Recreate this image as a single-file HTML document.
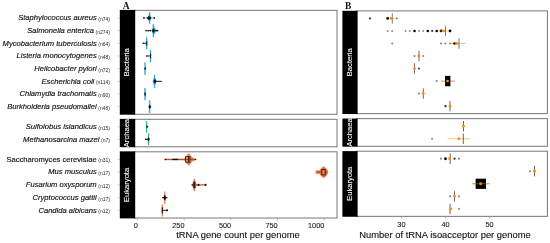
<!DOCTYPE html>
<html lang="en"><head><meta charset="utf-8"><title>tRNA gene count per genome</title>
<style>html,body{margin:0;padding:0;background:#fff}svg{display:block}</style></head>
<body>
<svg width="550" height="243" viewBox="0 0 550 243">
<rect width="550" height="243" fill="#fff"/>
<text x="122.8" y="8.9" font-family="Liberation Serif, Times New Roman, serif" font-weight="bold" font-size="9.5" fill="#111">A</text>
<text x="344.9" y="8.9" font-family="Liberation Serif, Times New Roman, serif" font-weight="bold" font-size="9.5" fill="#111">B</text>
<text x="110" y="20.26" text-anchor="end" font-family="Liberation Sans, Arial, sans-serif" font-size="7.6" fill="#111" stroke="#111" stroke-width="0.15"><tspan font-style="italic">Staphylococcus aureus</tspan><tspan font-size="5" fill="#2a2a2a" stroke="none" dx="1.6" dy="0.6">(n74)</tspan></text>
<line x1="117" x2="120" y1="17.96" y2="17.96" stroke="#c8c8c8" stroke-width="0.6"/>
<text x="110" y="32.93" text-anchor="end" font-family="Liberation Sans, Arial, sans-serif" font-size="7.6" fill="#111" stroke="#111" stroke-width="0.15"><tspan font-style="italic">Salmonella enterica</tspan><tspan font-size="5" fill="#2a2a2a" stroke="none" dx="1.6" dy="0.6">(n274)</tspan></text>
<line x1="117" x2="120" y1="30.63" y2="30.63" stroke="#c8c8c8" stroke-width="0.6"/>
<text x="110" y="45.61" text-anchor="end" font-family="Liberation Sans, Arial, sans-serif" font-size="7.6" fill="#111" stroke="#111" stroke-width="0.15"><tspan font-style="italic">Mycobacterium tuberculosis</tspan><tspan font-size="5" fill="#2a2a2a" stroke="none" dx="1.6" dy="0.6">(n64)</tspan></text>
<line x1="117" x2="120" y1="43.31" y2="43.31" stroke="#c8c8c8" stroke-width="0.6"/>
<text x="110" y="58.29" text-anchor="end" font-family="Liberation Sans, Arial, sans-serif" font-size="7.6" fill="#111" stroke="#111" stroke-width="0.15"><tspan font-style="italic">Listeria monocytogenes</tspan><tspan font-size="5" fill="#2a2a2a" stroke="none" dx="1.6" dy="0.6">(n48)</tspan></text>
<line x1="117" x2="120" y1="55.99" y2="55.99" stroke="#c8c8c8" stroke-width="0.6"/>
<text x="110" y="70.96" text-anchor="end" font-family="Liberation Sans, Arial, sans-serif" font-size="7.6" fill="#111" stroke="#111" stroke-width="0.15"><tspan font-style="italic">Helicobacter pylori</tspan><tspan font-size="5" fill="#2a2a2a" stroke="none" dx="1.6" dy="0.6">(n72)</tspan></text>
<line x1="117" x2="120" y1="68.66" y2="68.66" stroke="#c8c8c8" stroke-width="0.6"/>
<text x="110" y="83.64" text-anchor="end" font-family="Liberation Sans, Arial, sans-serif" font-size="7.6" fill="#111" stroke="#111" stroke-width="0.15"><tspan font-style="italic">Escherichia coli</tspan><tspan font-size="5" fill="#2a2a2a" stroke="none" dx="1.6" dy="0.6">(n114)</tspan></text>
<line x1="117" x2="120" y1="81.34" y2="81.34" stroke="#c8c8c8" stroke-width="0.6"/>
<text x="110" y="96.32" text-anchor="end" font-family="Liberation Sans, Arial, sans-serif" font-size="7.6" fill="#111" stroke="#111" stroke-width="0.15"><tspan font-style="italic">Chlamydia trachomatis</tspan><tspan font-size="5" fill="#2a2a2a" stroke="none" dx="1.6" dy="0.6">(n90)</tspan></text>
<line x1="117" x2="120" y1="94.02" y2="94.02" stroke="#c8c8c8" stroke-width="0.6"/>
<text x="110" y="108.99" text-anchor="end" font-family="Liberation Sans, Arial, sans-serif" font-size="7.6" fill="#111" stroke="#111" stroke-width="0.15"><tspan font-style="italic">Burkholderia pseudomallei</tspan><tspan font-size="5" fill="#2a2a2a" stroke="none" dx="1.6" dy="0.6">(n48)</tspan></text>
<line x1="117" x2="120" y1="106.69" y2="106.69" stroke="#c8c8c8" stroke-width="0.6"/>
<text x="110" y="129.10" text-anchor="end" font-family="Liberation Sans, Arial, sans-serif" font-size="7.6" fill="#111" stroke="#111" stroke-width="0.15"><tspan font-style="italic">Sulfolobus islandicus</tspan><tspan font-size="5" fill="#2a2a2a" stroke="none" dx="1.6" dy="0.6">(n15)</tspan></text>
<line x1="117" x2="120" y1="126.80" y2="126.80" stroke="#c8c8c8" stroke-width="0.6"/>
<text x="110" y="141.60" text-anchor="end" font-family="Liberation Sans, Arial, sans-serif" font-size="7.6" fill="#111" stroke="#111" stroke-width="0.15"><tspan font-style="italic">Methanosarcina mazei</tspan><tspan font-size="5" fill="#2a2a2a" stroke="none" dx="1.6" dy="0.6">(n7)</tspan></text>
<line x1="117" x2="120" y1="139.30" y2="139.30" stroke="#c8c8c8" stroke-width="0.6"/>
<text x="110" y="161.74" text-anchor="end" font-family="Liberation Sans, Arial, sans-serif" font-size="7.6" fill="#111" stroke="#111" stroke-width="0.15"><tspan>Saccharomyces cerevisiae</tspan><tspan font-size="5" fill="#2a2a2a" stroke="none" dx="1.6" dy="0.6">(n31)</tspan></text>
<line x1="117" x2="120" y1="159.44" y2="159.44" stroke="#c8c8c8" stroke-width="0.6"/>
<text x="110" y="174.47" text-anchor="end" font-family="Liberation Sans, Arial, sans-serif" font-size="7.6" fill="#111" stroke="#111" stroke-width="0.15"><tspan font-style="italic">Mus musculus</tspan><tspan font-size="5" fill="#2a2a2a" stroke="none" dx="1.6" dy="0.6">(n17)</tspan></text>
<line x1="117" x2="120" y1="172.17" y2="172.17" stroke="#c8c8c8" stroke-width="0.6"/>
<text x="110" y="187.20" text-anchor="end" font-family="Liberation Sans, Arial, sans-serif" font-size="7.6" fill="#111" stroke="#111" stroke-width="0.15"><tspan font-style="italic">Fusarium oxysporum</tspan><tspan font-size="5" fill="#2a2a2a" stroke="none" dx="1.6" dy="0.6">(n12)</tspan></text>
<line x1="117" x2="120" y1="184.90" y2="184.90" stroke="#c8c8c8" stroke-width="0.6"/>
<text x="110" y="199.93" text-anchor="end" font-family="Liberation Sans, Arial, sans-serif" font-size="7.6" fill="#111" stroke="#111" stroke-width="0.15"><tspan font-style="italic">Cryptococcus gattii</tspan><tspan font-size="5" fill="#2a2a2a" stroke="none" dx="1.6" dy="0.6">(n17)</tspan></text>
<line x1="117" x2="120" y1="197.63" y2="197.63" stroke="#c8c8c8" stroke-width="0.6"/>
<text x="110" y="212.66" text-anchor="end" font-family="Liberation Sans, Arial, sans-serif" font-size="7.6" fill="#111" stroke="#111" stroke-width="0.15"><tspan font-style="italic">Candida albicans</tspan><tspan font-size="5" fill="#2a2a2a" stroke="none" dx="1.6" dy="0.6">(n12)</tspan></text>
<line x1="117" x2="120" y1="210.36" y2="210.36" stroke="#c8c8c8" stroke-width="0.6"/>
<rect x="134.20" y="10.35" width="202.80" height="103.95" fill="#fff" stroke="#767676" stroke-width="1"/>
<rect x="119.8" y="9.90" width="15.40" height="104.80" fill="#000"/>
<text transform="translate(129.00,62.32) rotate(-90)" text-anchor="middle" font-family="Liberation Sans, Arial, sans-serif" font-size="7.6" fill="#fff" stroke="#fff" stroke-width="0.08">Bacteria</text>
<rect x="134.20" y="119.3" width="202.80" height="27.50" fill="#fff" stroke="#767676" stroke-width="1"/>
<rect x="119.8" y="118.85" width="15.40" height="28.35" fill="#000"/>
<text transform="translate(129.00,133.05) rotate(-90)" text-anchor="middle" font-family="Liberation Sans, Arial, sans-serif" font-size="7.6" fill="#fff" stroke="#fff" stroke-width="0.08">Archaea</text>
<rect x="134.20" y="151.8" width="202.80" height="66.20" fill="#fff" stroke="#767676" stroke-width="1"/>
<rect x="119.8" y="151.35" width="15.40" height="67.05" fill="#000"/>
<text transform="translate(129.00,184.90) rotate(-90)" text-anchor="middle" font-family="Liberation Sans, Arial, sans-serif" font-size="7.6" fill="#fff" stroke="#fff" stroke-width="0.08">Eukaryota</text>
<rect x="356.60" y="10.9" width="190.80" height="102.75" fill="#fff" stroke="#767676" stroke-width="1"/>
<rect x="342.4" y="10.80" width="15.20" height="103.25" fill="#000"/>
<text transform="translate(351.50,62.28) rotate(-90)" text-anchor="middle" font-family="Liberation Sans, Arial, sans-serif" font-size="7.6" fill="#fff" stroke="#fff" stroke-width="0.08">Bacteria</text>
<rect x="356.60" y="118.65" width="190.80" height="27.65" fill="#fff" stroke="#767676" stroke-width="1"/>
<rect x="342.4" y="118.55" width="15.20" height="28.15" fill="#000"/>
<text transform="translate(351.50,132.48) rotate(-90)" text-anchor="middle" font-family="Liberation Sans, Arial, sans-serif" font-size="7.6" fill="#fff" stroke="#fff" stroke-width="0.08">Archaea</text>
<rect x="356.60" y="151.2" width="190.80" height="65.15" fill="#fff" stroke="#767676" stroke-width="1"/>
<rect x="342.4" y="151.10" width="15.20" height="65.65" fill="#000"/>
<text transform="translate(351.50,183.77) rotate(-90)" text-anchor="middle" font-family="Liberation Sans, Arial, sans-serif" font-size="7.6" fill="#fff" stroke="#fff" stroke-width="0.08">Eukaryota</text>
<line x1="137.60" x2="137.60" y1="218.4" y2="220.4" stroke="#8a8a8a" stroke-width="0.6"/>
<text x="137.90" y="228.2" text-anchor="end" font-family="Liberation Sans, Arial, sans-serif" font-size="7.3" fill="#1a1a1a" stroke="#1a1a1a" stroke-width="0.1">0</text>
<line x1="184.20" x2="184.20" y1="218.4" y2="220.4" stroke="#8a8a8a" stroke-width="0.6"/>
<text x="184.50" y="228.2" text-anchor="end" font-family="Liberation Sans, Arial, sans-serif" font-size="7.3" fill="#1a1a1a" stroke="#1a1a1a" stroke-width="0.1">250</text>
<line x1="230.80" x2="230.80" y1="218.4" y2="220.4" stroke="#8a8a8a" stroke-width="0.6"/>
<text x="231.10" y="228.2" text-anchor="end" font-family="Liberation Sans, Arial, sans-serif" font-size="7.3" fill="#1a1a1a" stroke="#1a1a1a" stroke-width="0.1">500</text>
<line x1="277.40" x2="277.40" y1="218.4" y2="220.4" stroke="#8a8a8a" stroke-width="0.6"/>
<text x="277.70" y="228.2" text-anchor="end" font-family="Liberation Sans, Arial, sans-serif" font-size="7.3" fill="#1a1a1a" stroke="#1a1a1a" stroke-width="0.1">750</text>
<line x1="324.00" x2="324.00" y1="218.4" y2="220.4" stroke="#8a8a8a" stroke-width="0.6"/>
<text x="324.30" y="228.2" text-anchor="end" font-family="Liberation Sans, Arial, sans-serif" font-size="7.3" fill="#1a1a1a" stroke="#1a1a1a" stroke-width="0.1">1000</text>
<text x="238" y="238.4" text-anchor="middle" font-family="Liberation Sans, Arial, sans-serif" font-size="9.4" fill="#111" stroke="#111" stroke-width="0.12">tRNA gene count per genome</text>
<line x1="401.40" x2="401.40" y1="216.8" y2="218.6" stroke="#8a8a8a" stroke-width="0.6"/>
<text x="401.40" y="227" text-anchor="middle" font-family="Liberation Sans, Arial, sans-serif" font-size="7.3" fill="#1a1a1a" stroke="#1a1a1a" stroke-width="0.1">30</text>
<line x1="445.50" x2="445.50" y1="216.8" y2="218.6" stroke="#8a8a8a" stroke-width="0.6"/>
<text x="445.50" y="227" text-anchor="middle" font-family="Liberation Sans, Arial, sans-serif" font-size="7.3" fill="#1a1a1a" stroke="#1a1a1a" stroke-width="0.1">40</text>
<line x1="489.60" x2="489.60" y1="216.8" y2="218.6" stroke="#8a8a8a" stroke-width="0.6"/>
<text x="489.60" y="227" text-anchor="middle" font-family="Liberation Sans, Arial, sans-serif" font-size="7.3" fill="#1a1a1a" stroke="#1a1a1a" stroke-width="0.1">50</text>
<text x="445" y="238.4" text-anchor="middle" font-family="Liberation Sans, Arial, sans-serif" font-size="9.4" fill="#111" stroke="#111" stroke-width="0.12">Number of tRNA isoacceptor per genome</text>
<path d="M150.05,12.16 L150.05,13.12 L150.05,14.09 L150.21,15.06 L150.60,16.02 L150.96,16.99 L151.10,17.96 L150.96,18.92 L150.60,19.89 L150.21,20.86 L150.05,21.82 L150.05,22.79 L150.05,23.76 L149.15,23.76 L149.15,22.79 L149.15,21.82 L148.91,20.86 L148.46,19.89 L148.06,18.92 L147.90,17.96 L148.06,16.99 L148.46,16.02 L148.91,15.06 L149.15,14.09 L149.15,13.12 L149.15,12.16Z" fill="#1E9FD6" stroke="#1E9FD6" stroke-width="0.3" />
<line x1="143.80" x2="154.30" y1="17.96" y2="17.96" stroke="#111" stroke-width="0.35"/>
<circle cx="143.90" cy="17.96" r="0.85" fill="#111" fill-opacity="1"/>
<circle cx="154.30" cy="17.96" r="0.85" fill="#111" fill-opacity="1"/>
<path d="M146.50,17.96 L149.00,15.96 L151.50,17.96 L149.00,19.96Z" fill="#111"/>
<path d="M153.75,24.33 L153.75,25.38 L153.82,26.43 L154.35,27.48 L155.04,28.53 L155.65,29.58 L155.90,30.63 L155.65,31.68 L155.04,32.73 L154.35,33.78 L153.82,34.83 L153.75,35.88 L153.75,36.93 L152.85,36.93 L152.85,35.88 L152.85,34.83 L152.85,33.78 L152.63,32.73 L152.40,31.68 L152.30,30.63 L152.40,29.58 L152.63,28.53 L152.85,27.48 L152.85,26.43 L152.85,25.38 L152.85,24.33Z" fill="#1E9FD6" stroke="#1E9FD6" stroke-width="0.3" />
<line x1="145.80" x2="157.60" y1="30.63" y2="30.63" stroke="#111" stroke-width="0.45"/>
<circle cx="146.00" cy="30.63" r="0.8" fill="#111" fill-opacity="1"/>
<circle cx="148.20" cy="30.63" r="0.8" fill="#111" fill-opacity="1"/>
<circle cx="150.20" cy="30.63" r="0.8" fill="#111" fill-opacity="1"/>
<circle cx="156.30" cy="30.63" r="0.8" fill="#111" fill-opacity="1"/>
<circle cx="157.60" cy="30.63" r="0.8" fill="#111" fill-opacity="1"/>
<path d="M151.80,30.63 L153.40,28.23 L155.00,30.63 L153.40,33.03Z" fill="#111"/>
<path d="M147.15,37.31 L147.15,38.31 L147.15,39.31 L147.15,40.31 L147.15,41.31 L147.15,42.31 L147.15,43.31 L147.15,44.31 L147.15,45.31 L147.15,46.31 L147.15,47.31 L147.15,48.31 L147.15,49.31 L146.25,49.31 L146.25,48.31 L146.25,47.31 L146.25,46.31 L146.25,45.31 L146.25,44.31 L146.25,43.31 L146.25,42.31 L146.25,41.31 L146.25,40.31 L146.25,39.31 L146.25,38.31 L146.25,37.31Z" fill="#1E9FD6" stroke="#1E9FD6" stroke-width="0.3" />
<line x1="143.00" x2="146.60" y1="43.31" y2="43.31" stroke="#111" stroke-width="0.9"/>
<circle cx="143.20" cy="43.31" r="0.7" fill="#111" fill-opacity="1"/>
<line x1="146.80" x2="146.80" y1="41.11" y2="45.51" stroke="#111" stroke-width="1.0"/>
<path d="M150.95,49.99 L150.95,50.99 L150.95,51.99 L150.95,52.99 L150.95,53.99 L150.95,54.99 L150.95,55.99 L150.95,56.99 L150.95,57.99 L150.95,58.99 L150.95,59.99 L150.95,60.99 L150.95,61.99 L150.05,61.99 L150.05,60.99 L150.05,59.99 L150.05,58.99 L150.05,57.99 L150.05,56.99 L150.05,55.99 L150.05,54.99 L150.05,53.99 L150.05,52.99 L150.05,51.99 L150.05,50.99 L150.05,49.99Z" fill="#1E9FD6" stroke="#1E9FD6" stroke-width="0.3" />
<line x1="146.60" x2="150.40" y1="55.99" y2="55.99" stroke="#111" stroke-width="0.9"/>
<circle cx="146.80" cy="55.99" r="0.7" fill="#111" fill-opacity="1"/>
<line x1="150.60" x2="150.60" y1="53.69" y2="58.29" stroke="#111" stroke-width="1.0"/>
<path d="M145.45,62.66 L145.45,63.66 L145.45,64.66 L145.45,65.66 L145.45,66.66 L145.45,67.66 L145.45,68.66 L145.45,69.66 L145.45,70.66 L145.45,71.66 L145.45,72.66 L145.45,73.66 L145.45,74.66 L144.55,74.66 L144.55,73.66 L144.55,72.66 L144.55,71.66 L144.55,70.66 L144.55,69.66 L144.55,68.66 L144.55,67.66 L144.55,66.66 L144.55,65.66 L144.55,64.66 L144.55,63.66 L144.55,62.66Z" fill="#1E9FD6" stroke="#1E9FD6" stroke-width="0.3" />
<path d="M144.30,68.66 L145.20,66.76 L146.10,68.66 L145.20,70.56Z" fill="#111"/>
<path d="M155.05,75.04 L155.05,76.09 L155.05,77.14 L155.29,78.19 L155.74,79.24 L156.14,80.29 L156.30,81.34 L156.14,82.39 L155.74,83.44 L155.29,84.49 L155.05,85.54 L155.05,86.59 L155.05,87.64 L154.15,87.64 L154.15,86.59 L154.15,85.54 L153.91,84.49 L153.46,83.44 L153.06,82.39 L152.90,81.34 L153.06,80.29 L153.46,79.24 L153.91,78.19 L154.15,77.14 L154.15,76.09 L154.15,75.04Z" fill="#1E9FD6" stroke="#1E9FD6" stroke-width="0.3" />
<line x1="154.50" x2="161.80" y1="81.34" y2="81.34" stroke="#111" stroke-width="1.0"/>
<path d="M153.50,81.34 L155.00,79.04 L156.50,81.34 L155.00,83.64Z" fill="#111"/>
<path d="M145.45,88.02 L145.45,89.02 L145.45,90.02 L145.45,91.02 L145.45,92.02 L145.45,93.02 L145.45,94.02 L145.45,95.02 L145.45,96.02 L145.45,97.02 L145.45,98.02 L145.45,99.02 L145.45,100.02 L144.55,100.02 L144.55,99.02 L144.55,98.02 L144.55,97.02 L144.55,96.02 L144.55,95.02 L144.55,94.02 L144.55,93.02 L144.55,92.02 L144.55,91.02 L144.55,90.02 L144.55,89.02 L144.55,88.02Z" fill="#1E9FD6" stroke="#1E9FD6" stroke-width="0.3" />
<path d="M144.20,94.02 L145.10,91.62 L146.00,94.02 L145.10,96.42Z" fill="#111"/>
<path d="M150.15,100.49 L150.15,101.53 L150.15,102.56 L150.15,103.59 L150.15,104.63 L150.15,105.66 L150.15,106.69 L150.15,107.73 L150.15,108.76 L150.15,109.79 L150.15,110.83 L150.15,111.86 L150.15,112.89 L149.25,112.89 L149.25,111.86 L149.25,110.83 L149.25,109.79 L149.25,108.76 L149.25,107.73 L149.25,106.69 L149.25,105.66 L149.25,104.63 L149.25,103.59 L149.25,102.56 L149.25,101.53 L149.25,100.49Z" fill="#1E9FD6" stroke="#1E9FD6" stroke-width="0.3" />
<path d="M148.30,106.69 L149.80,104.39 L151.30,106.69 L149.80,108.99Z" fill="#111"/>
<path d="M147.05,121.20 L147.05,122.13 L147.05,123.07 L147.05,124.00 L147.05,124.93 L147.05,125.87 L147.05,126.80 L147.05,127.73 L147.05,128.67 L147.05,129.60 L147.05,130.53 L147.05,131.47 L147.05,132.40 L146.15,132.40 L146.15,131.47 L146.15,130.53 L146.15,129.60 L146.15,128.67 L146.15,127.73 L146.15,126.80 L146.15,125.87 L146.15,124.93 L146.15,124.00 L146.15,123.07 L146.15,122.13 L146.15,121.20Z" fill="#1DB690" stroke="#1DB690" stroke-width="0.3" />
<path d="M146.5,125.00 L148.3,126.80 L146.5,128.60Z" fill="#111"/>
<path d="M149.05,133.60 L149.05,134.55 L149.05,135.50 L149.05,136.45 L149.20,137.40 L149.41,138.35 L149.50,139.30 L149.41,140.25 L149.20,141.20 L149.05,142.15 L149.05,143.10 L149.05,144.05 L149.05,145.00 L148.15,145.00 L148.15,144.05 L148.15,143.10 L148.15,142.15 L148.00,141.20 L147.79,140.25 L147.70,139.30 L147.79,138.35 L148.00,137.40 L148.15,136.45 L148.15,135.50 L148.15,134.55 L148.15,133.60Z" fill="#1DB690" stroke="#1DB690" stroke-width="0.3" />
<line x1="145.60" x2="149.40" y1="139.30" y2="139.30" stroke="#111" stroke-width="0.9"/>
<circle cx="145.60" cy="139.30" r="0.8" fill="#111" fill-opacity="1"/>
<path d="M147.20,139.30 L148.40,137.30 L149.60,139.30 L148.40,141.30Z" fill="#111"/>
<path d="M164.5,159.14 L184,158.94 L185.5,157.84 L187,155.44 L188.8,153.64 L190.2,155.44 L192,157.64 L195.5,159.14 L195.5,159.74 L192,161.24 L190.2,163.44 L188.8,165.24 L187,163.44 L185.5,161.04 L184,159.94 L164.5,159.74Z" fill="#EC7F4D" stroke="#E9723A" stroke-width="0.7"/>
<line x1="165.50" x2="195.50" y1="159.44" y2="159.44" stroke="#5a2a18" stroke-width="0.5"/>
<circle cx="165.50" cy="159.44" r="0.8" fill="#111" fill-opacity="1"/>
<circle cx="195.60" cy="159.44" r="0.8" fill="#111" fill-opacity="1"/>
<line x1="172.30" x2="178.20" y1="159.44" y2="159.44" stroke="#111" stroke-width="1.3"/>
<rect x="185.6" y="156.64" width="4.4" height="5.6" fill="none" stroke="#222" stroke-width="0.8"/>
<line x1="188.60" x2="188.60" y1="156.64" y2="162.24" stroke="#111" stroke-width="0.8"/>
<path d="M315.9,170.87 L319.4,170.77 L320.4,169.57 L321.6,167.97 L322.6,167.17 L323.6,166.77 L324.6,167.17 L325.8,168.17 L326.9,169.57 L327.8,170.97 L327.8,173.37 L326.9,174.77 L325.8,176.17 L324.6,177.17 L323.6,177.57 L322.6,177.17 L321.6,176.37 L320.4,174.77 L319.4,173.57 L315.9,173.47Z" fill="#E9723A" stroke="#E9723A" stroke-width="0.5" stroke-linejoin="round"/>
<line x1="317.00" x2="327.60" y1="172.17" y2="172.17" stroke="#5a2a18" stroke-width="0.5"/>
<rect x="321.8" y="169.47" width="3.4" height="5.4" fill="#E8805C" stroke="#222" stroke-width="0.9"/>
<line x1="191.00" x2="206.00" y1="184.90" y2="184.90" stroke="#E9723A" stroke-width="1.2"/>
<path d="M194.85,178.90 L194.91,179.90 L195.24,180.90 L195.63,181.90 L196.01,182.90 L196.29,183.90 L196.40,184.90 L196.29,185.90 L196.01,186.90 L195.63,187.90 L195.24,188.90 L194.91,189.90 L194.85,190.90 L193.95,190.90 L193.89,189.90 L193.56,188.90 L193.17,187.90 L192.79,186.90 L192.51,185.90 L192.40,184.90 L192.51,183.90 L192.79,182.90 L193.17,181.90 L193.56,180.90 L193.89,179.90 L193.95,178.90Z" fill="#E9723A" stroke="#E9723A" stroke-width="0.3" />
<rect x="193.3" y="181.70" width="2.0" height="6.4" fill="#223"/>
<line x1="195.00" x2="205.50" y1="184.90" y2="184.90" stroke="#7a3a20" stroke-width="0.4"/>
<circle cx="198.50" cy="184.90" r="1.05" fill="#111" fill-opacity="1"/>
<circle cx="205.60" cy="184.90" r="1.05" fill="#111" fill-opacity="1"/>
<circle cx="192.60" cy="184.90" r="0.7" fill="#111" fill-opacity="1"/>
<path d="M165.25,191.73 L165.25,192.71 L165.25,193.70 L165.31,194.68 L165.50,195.66 L165.65,196.65 L165.70,197.63 L165.65,198.61 L165.50,199.60 L165.31,200.58 L165.25,201.56 L165.25,202.55 L165.25,203.53 L164.35,203.53 L164.35,202.55 L164.35,201.56 L164.29,200.58 L164.10,199.60 L163.95,198.61 L163.90,197.63 L163.95,196.65 L164.10,195.66 L164.29,194.68 L164.35,193.70 L164.35,192.71 L164.35,191.73Z" fill="#E9723A" stroke="#E9723A" stroke-width="0.3" />
<line x1="162.20" x2="167.40" y1="197.63" y2="197.63" stroke="#111" stroke-width="1.2"/>
<line x1="164.80" x2="164.80" y1="195.13" y2="200.13" stroke="#111" stroke-width="1.3"/>
<path d="M163.00,197.63 L164.80,195.83 L166.60,197.63 L164.80,199.43Z" fill="#111"/>
<path d="M162.75,204.46 L162.75,205.44 L162.75,206.43 L162.89,207.41 L163.05,208.39 L163.16,209.38 L163.20,210.36 L163.16,211.34 L163.05,212.33 L162.89,213.31 L162.75,214.29 L162.75,215.28 L162.75,216.26 L161.85,216.26 L161.85,215.28 L161.85,214.29 L161.71,213.31 L161.55,212.33 L161.44,211.34 L161.40,210.36 L161.44,209.38 L161.55,208.39 L161.71,207.41 L161.85,206.43 L161.85,205.44 L161.85,204.46Z" fill="#E9723A" stroke="#E9723A" stroke-width="0.3" />
<line x1="162.40" x2="162.40" y1="207.36" y2="213.36" stroke="#111" stroke-width="0.9"/>
<line x1="162.50" x2="167.00" y1="210.36" y2="210.36" stroke="#111" stroke-width="0.8"/>
<circle cx="167.00" cy="210.36" r="1.1" fill="#111" fill-opacity="1"/>
<circle cx="370.00" cy="18.42" r="1.1" fill="#000" fill-opacity="0.75"/>
<circle cx="387.70" cy="18.42" r="1.4080000000000001" fill="#000" fill-opacity="1"/>
<line x1="389.00" x2="395.30" y1="18.42" y2="18.42" stroke="#FF8A00" stroke-width="0.5"/>
<line x1="392.30" x2="392.30" y1="13.22" y2="23.62" stroke="#222" stroke-width="0.6"/>
<circle cx="391.20" cy="18.42" r="1.4" fill="#FF8A00" fill-opacity="1"/>
<circle cx="396.80" cy="18.42" r="1.1" fill="#000" fill-opacity="0.45"/>
<circle cx="387.70" cy="30.95" r="0.9680000000000001" fill="#000" fill-opacity="0.45"/>
<circle cx="392.20" cy="30.95" r="0.9680000000000001" fill="#000" fill-opacity="0.45"/>
<circle cx="405.50" cy="30.95" r="0.9680000000000001" fill="#000" fill-opacity="0.45"/>
<circle cx="409.80" cy="30.95" r="0.9680000000000001" fill="#000" fill-opacity="0.45"/>
<circle cx="414.50" cy="30.95" r="1.32" fill="#000" fill-opacity="1"/>
<circle cx="419.00" cy="30.95" r="0.9680000000000001" fill="#000" fill-opacity="0.45"/>
<circle cx="423.30" cy="30.95" r="0.9680000000000001" fill="#000" fill-opacity="0.45"/>
<circle cx="427.80" cy="30.95" r="1.32" fill="#000" fill-opacity="1"/>
<circle cx="432.20" cy="30.95" r="1.1440000000000001" fill="#000" fill-opacity="0.75"/>
<circle cx="436.70" cy="30.95" r="1.32" fill="#000" fill-opacity="1"/>
<circle cx="441.00" cy="30.95" r="1.4080000000000001" fill="#000" fill-opacity="1"/>
<circle cx="450.00" cy="30.95" r="1.4080000000000001" fill="#000" fill-opacity="1"/>
<line x1="440.00" x2="447.50" y1="30.95" y2="30.95" stroke="#FF8A00" stroke-width="0.5"/>
<line x1="445.50" x2="445.50" y1="25.75" y2="36.15" stroke="#222" stroke-width="0.6"/>
<circle cx="443.60" cy="30.95" r="1.4" fill="#FF8A00" fill-opacity="1"/>
<circle cx="392.30" cy="43.48" r="1.1" fill="#000" fill-opacity="0.45"/>
<circle cx="441.00" cy="43.48" r="1.1" fill="#000" fill-opacity="0.45"/>
<circle cx="445.50" cy="43.48" r="1.1" fill="#000" fill-opacity="0.45"/>
<circle cx="450.00" cy="43.48" r="1.1" fill="#000" fill-opacity="0.45"/>
<line x1="449.00" x2="465.50" y1="43.48" y2="43.48" stroke="#FF8A00" stroke-width="0.5"/>
<circle cx="454.50" cy="43.48" r="1.32" fill="#000" fill-opacity="1"/>
<line x1="459.00" x2="459.00" y1="38.28" y2="48.68" stroke="#333" stroke-width="0.7"/>
<circle cx="456.80" cy="43.48" r="1.4" fill="#FF8A00" fill-opacity="1"/>
<circle cx="414.50" cy="56.01" r="1.1" fill="#000" fill-opacity="0.45"/>
<circle cx="423.30" cy="56.01" r="1.1" fill="#000" fill-opacity="0.45"/>
<line x1="419.00" x2="419.00" y1="50.81" y2="61.21" stroke="#555" stroke-width="0.9"/>
<circle cx="419.00" cy="56.01" r="1.4" fill="#FF8A00" fill-opacity="1"/>
<circle cx="419.00" cy="68.54" r="1.056" fill="#000" fill-opacity="0.7"/>
<line x1="414.50" x2="414.50" y1="63.34" y2="73.74" stroke="#333" stroke-width="0.7"/>
<circle cx="414.50" cy="68.54" r="1.4" fill="#FF8A00" fill-opacity="1"/>
<circle cx="436.70" cy="81.07" r="1.1" fill="#000" fill-opacity="0.45"/>
<line x1="441.00" x2="455.00" y1="81.07" y2="81.07" stroke="#6a6259" stroke-width="0.6"/>
<rect x="445.1" y="75.87" width="5.3" height="10.4" fill="#000"/>
<circle cx="447.60" cy="81.07" r="1.4" fill="#FF8A00" fill-opacity="1"/>
<circle cx="419.00" cy="93.60" r="1.1" fill="#000" fill-opacity="0.45"/>
<line x1="423.30" x2="423.30" y1="88.40" y2="98.80" stroke="#222" stroke-width="0.7"/>
<circle cx="423.30" cy="93.60" r="1.4" fill="#FF8A00" fill-opacity="1"/>
<circle cx="445.50" cy="106.13" r="1.1440000000000001" fill="#000" fill-opacity="0.85"/>
<line x1="450.00" x2="450.00" y1="100.93" y2="111.33" stroke="#555" stroke-width="0.9"/>
<circle cx="450.00" cy="106.13" r="1.4" fill="#FF8A00" fill-opacity="1"/>
<line x1="463.50" x2="463.50" y1="120.99" y2="131.39" stroke="#222" stroke-width="0.7"/>
<circle cx="463.50" cy="126.19" r="1.4" fill="#FF8A00" fill-opacity="1"/>
<circle cx="432.10" cy="138.76" r="1.1" fill="#000" fill-opacity="0.45"/>
<line x1="447.50" x2="470.50" y1="138.76" y2="138.76" stroke="#FF8A00" stroke-width="0.5"/>
<line x1="463.30" x2="463.30" y1="133.56" y2="143.96" stroke="#222" stroke-width="0.7"/>
<circle cx="459.00" cy="138.76" r="1.4" fill="#FF8A00" fill-opacity="1"/>
<circle cx="441.00" cy="158.72" r="1.1" fill="#000" fill-opacity="0.45"/>
<circle cx="445.50" cy="158.72" r="1.4080000000000001" fill="#000" fill-opacity="1"/>
<line x1="450.20" x2="450.20" y1="153.52" y2="163.92" stroke="#555" stroke-width="0.9"/>
<circle cx="449.60" cy="158.72" r="1.4" fill="#FF8A00" fill-opacity="1"/>
<circle cx="454.50" cy="158.72" r="1.1440000000000001" fill="#000" fill-opacity="0.8"/>
<circle cx="459.00" cy="158.72" r="1.1" fill="#000" fill-opacity="0.45"/>
<circle cx="530.00" cy="171.25" r="1.1" fill="#000" fill-opacity="0.45"/>
<line x1="534.50" x2="534.50" y1="166.05" y2="176.45" stroke="#222" stroke-width="0.7"/>
<circle cx="534.50" cy="171.25" r="1.4" fill="#FF8A00" fill-opacity="1"/>
<line x1="472.00" x2="490.00" y1="183.77" y2="183.77" stroke="#7a6a5a" stroke-width="0.6"/>
<rect x="475.6" y="178.67" width="10.4" height="10.2" fill="#000"/>
<line x1="474.00" x2="488.00" y1="183.77" y2="183.77" stroke="#FF8A00" stroke-width="0.5"/>
<circle cx="480.60" cy="183.77" r="1.4" fill="#FF8A00" fill-opacity="1"/>
<circle cx="450.00" cy="196.30" r="1.1" fill="#000" fill-opacity="0.45"/>
<circle cx="459.00" cy="196.30" r="1.1" fill="#000" fill-opacity="0.45"/>
<line x1="454.50" x2="454.50" y1="191.10" y2="201.50" stroke="#222" stroke-width="0.7"/>
<circle cx="454.50" cy="196.30" r="1.4" fill="#FF8A00" fill-opacity="1"/>
<circle cx="459.00" cy="208.83" r="1.1" fill="#000" fill-opacity="0.45"/>
<line x1="450.00" x2="450.00" y1="203.63" y2="214.03" stroke="#555" stroke-width="0.9"/>
<circle cx="451.00" cy="208.83" r="1.4" fill="#FF8A00" fill-opacity="1"/>
</svg>
</body></html>
